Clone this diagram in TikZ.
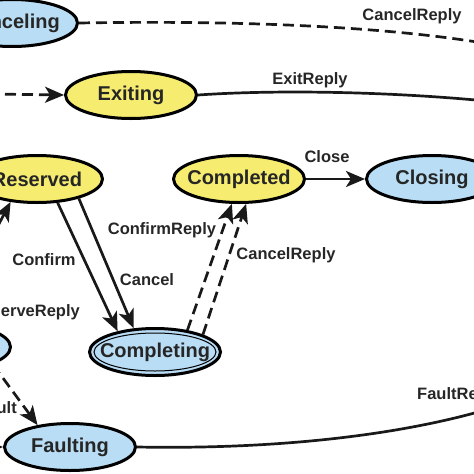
\documentclass[tikz,border=0pt]{standalone}
\usepackage{fontspec}
\setmainfont{Liberation Sans}
\usetikzlibrary{shapes.geometric,arrows.meta}
\definecolor{stblue}{RGB}{184,221,245}
\definecolor{styellow}{RGB}{246,237,112}
\newcommand\sttext[1]{\makebox[0pt]{#1}}
\begin{document}
\begin{tikzpicture}[x=1pt,y=-1pt,
  state/.style={ellipse,draw=black,line width=3pt,minimum width=131pt,minimum height=47pt,inner sep=0pt,
    font=\fontsize{20}{24}\selectfont\bfseries,text=black!85},
  bluest/.style={state,fill=stblue},
  yellst/.style={state,fill=styellow},
  conn/.style={line width=2.7pt,draw=black!90},
  arr/.style={conn,-{Stealth[length=19pt,width=16pt,inset=5pt]}},
  dsh/.style={dash pattern=on 11pt off 6pt},
  lbl/.style={font=\fontsize{16.5}{19}\selectfont\bfseries,inner sep=0pt,text=black!85}]
\useasboundingbox (0,0) rectangle (474,474);

% states
\node[bluest]  (canc)  at (12,23)   {\sttext{Canceling}};
\node[yellst]  (exit)  at (131,95)  {\sttext{Exiting}};
\node[yellst]  (res)   at (37,179)  {\sttext{Reserved}};
\node[yellst]  (compd) at (239,179) {\sttext{Completed}};
\node[bluest]  (clos)  at (432,179) {\sttext{Closing}};
\node[bluest]  (lft)   at (-55,347) {};
\node[bluest]  (compg) at (155,352) {\sttext{Completing}};
\draw[line width=1pt] (compg.center) ellipse [x radius=61, y radius=19];
\node[bluest]  (fault) at (70,447)  {\sttext{Faulting}};

% free ends
\coordinate (cancEnd)  at (530,52);
\coordinate (exitEnd)  at (530,106);
\coordinate (faultEnd) at (530,395);
\coordinate (exitIn)   at (-12,94);
\coordinate (resIn)    at (-16,252);
\coordinate (faultIn)  at (-20,447);

% connectors
\draw[conn,dsh] (canc.east) .. controls (250,20) and (420,27) .. (cancEnd);
\draw[conn] (exit.east) .. controls (300,88) and (440,94) .. (exitEnd);
\draw[conn] (fault.east) .. controls (300,450) and (440,430) .. (faultEnd);
\draw[arr,dsh] (exitIn) -- (exit.west);
\draw[arr] (resIn) -- (res.-139);
\draw[arr] (faultIn) -- (fault.west);
\draw[arr] (res.-49) -- (compg.151);
\draw[arr] (res.-25) -- (compg.132);
\draw[arr,dsh] (compg.34) -- (compd.-106);
\draw[arr,dsh] (compg.20) -- (compd.-74);
\draw[arr] (compd.east) -- (clos.west);
\draw[arr,dsh] (lft.-20) -- (fault.146);

% labels
\node[lbl] (lCancR)  at (412,16)  {CancelReply};
\node[lbl] (lExitR)  at (310,80)  {ExitReply};
\node[lbl] (lClose)  at (327,157) {Close};
\node[lbl] (lConfR)  at (162,230) {ConfirmReply};
\node[lbl] (lCancR2) at (286,255) {CancelReply};
\node[lbl] (lConf)   at (44,260)  {Confirm};
\node[lbl] (lCanc)   at (147,280) {Cancel};
\node[lbl,anchor=east] (lResR) at (80,312) {ReserveReply};
\node[lbl,anchor=east] (lFault) at (17,408) {Fault};
\node[lbl,anchor=west] (lFaultR) at (417,395) {FaultReply};
\end{tikzpicture}
\end{document}
